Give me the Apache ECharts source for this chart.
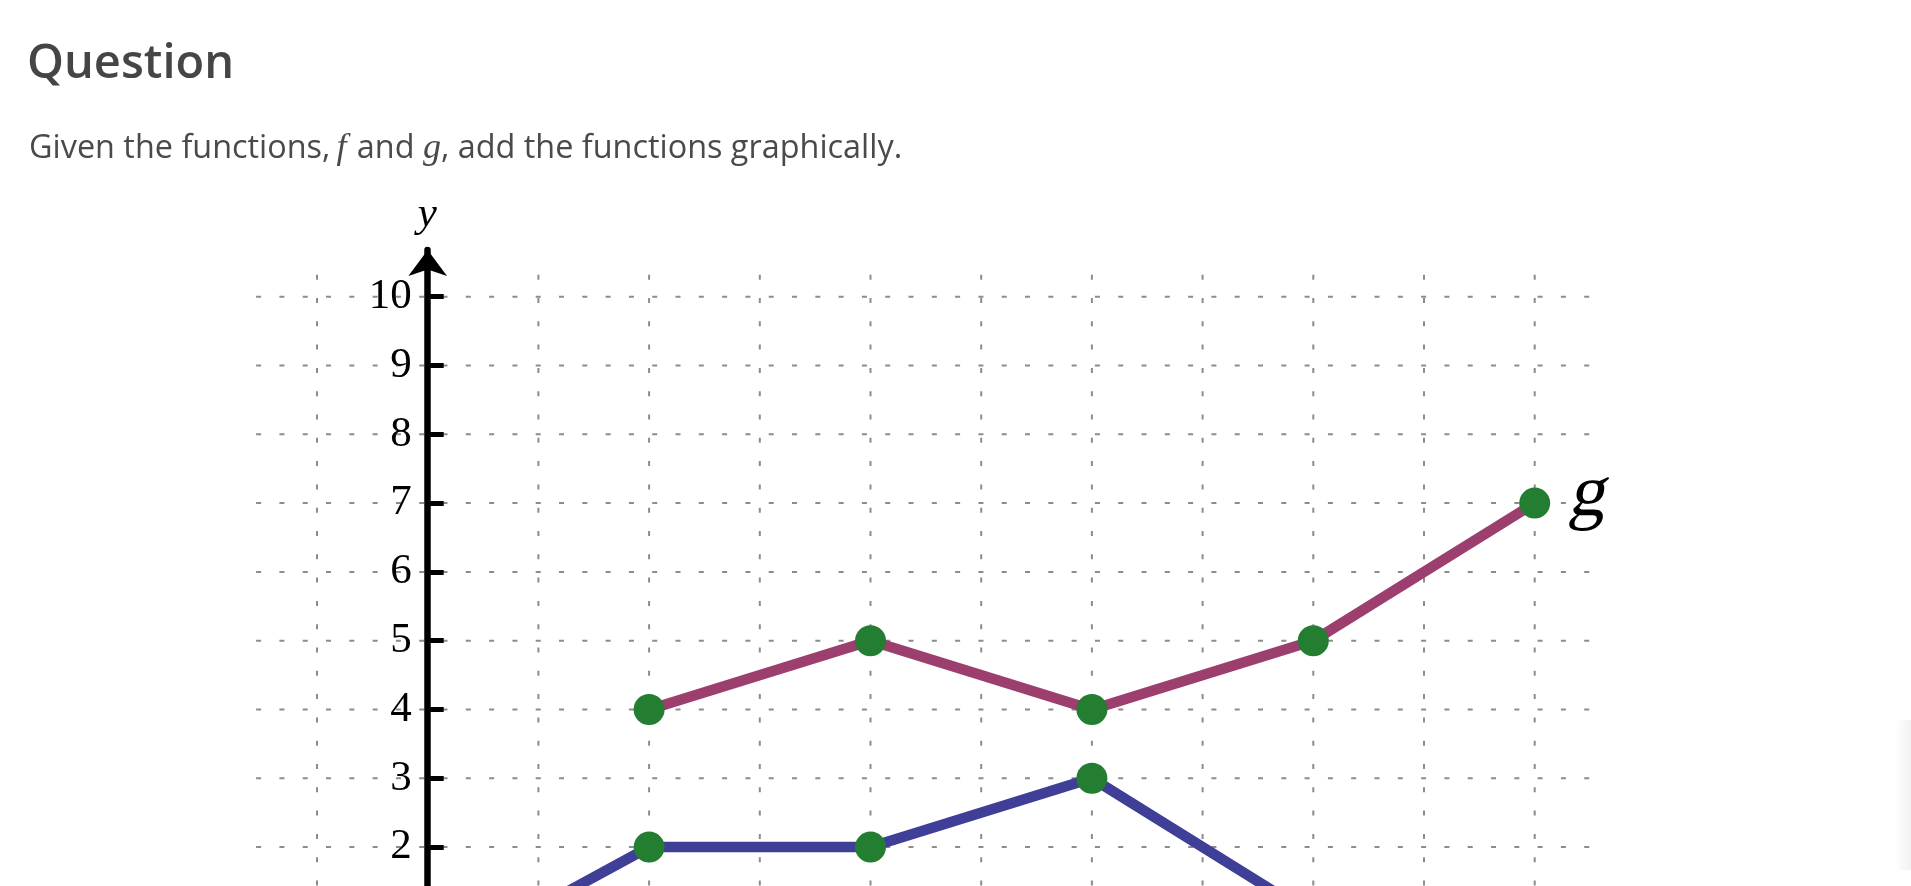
<!DOCTYPE html>
<html>
<head>
<meta charset="utf-8">
<script src="https://cdn.jsdelivr.net/npm/echarts@6/dist/echarts.min.js"></script>
<style>
  html, body { margin: 0; padding: 0; width: 1911px; height: 886px; overflow: hidden; background: #fff; }
  #wrap { position: absolute; left: 0; top: 0; width: 1911px; height: 886px; overflow: hidden; }
  #chart { position: absolute; left: 0; top: 0; width: 1911px; height: 1100px; }
  .head { position: absolute; left: 27px; top: 37px; margin: 0; font-family: 'Open Sans'; font-weight: 600; font-size: 47px; line-height: 1; color: #454545; white-space: nowrap; }
  .question { position: absolute; left: 29px; top: 128px; margin: 0; font-family: 'Open Sans'; font-weight: 400; font-size: 32.4px; line-height: 1; color: #4a4a4a; white-space: nowrap; }
  .question i { font-family: 'Liberation Serif'; font-size: 36px; }
  .question i.f { margin: 0 2px 0 6px; }
  .shadow { position: absolute; right: 0; top: 720px; width: 16px; height: 150px; background: linear-gradient(to right, rgba(0,0,0,0), rgba(0,0,0,0.05)); border-radius: 8px 0 0 8px; }
</style>
</head>
<body>
<div id="wrap"><div id="chart"></div></div>
<div class="head">Question</div>
<div class="question">Given the functions,<i class="f">f</i> and <i>g</i>, add the functions graphically.</div>
<div class="shadow"></div>
<script>
// ---- data ----
const fX = [0, 2, 4, 6, 8, 10];
const fY = [0.25, 2, 2, 3, 1, 0];
const gX = [2, 4, 6, 8, 10];
const gY = [4, 5, 4, 5, 7];
const gName = 'g';
const fName = 'f';
const yAxisName = 'y';
const yTicks = [1, 2, 3, 4, 5, 6, 7, 8, 9, 10];
const gridXs = [-1, 0, 1, 2, 3, 4, 5, 6, 7, 8, 9, 10];
const gridYs = [-1, 0, 1, 2, 3, 4, 5, 6, 7, 8, 9, 10];
const gridXStart = -1.55, gridXEnd = 10.5;
const gridYTop = 10.32, gridYBottom = -1;

// ---- build ----
const gridLines = gridYs.map(y => [gridXStart, y, gridXEnd, y])
  .concat(gridXs.map(x => [x, gridYTop, x, gridYBottom]));

const unitX = 110.7, unitY = 68.8;
const xMin = 0, xMax = 11, yMin = -1, yMax = 10.68;
const originX = 427.7, y10 = 296.7;

const chart = echarts.init(document.getElementById('chart'), null, { renderer: 'canvas' });
chart.setOption({
  animation: false,
  backgroundColor: '#ffffff',
  grid: {
    left: originX + xMin * unitX,
    top: y10 - (yMax - 10) * unitY,
    width: (xMax - xMin) * unitX,
    height: (yMax - yMin) * unitY,
    containLabel: false
  },
  xAxis: {
    type: 'value', min: xMin, max: xMax, show: false
  },
  yAxis: {
    type: 'value', min: yMin, max: yMax,
    z: 10,
    name: yAxisName,
    nameLocation: 'end',
    nameGap: 14,
    nameTextStyle: { fontFamily: 'Liberation Serif', fontStyle: 'italic', fontSize: 43, color: '#000', padding: [0, 1, 0, 0] },
    axisLine: { show: true, onZero: false, symbol: ['none', 'arrow'], symbolSize: [29, 26], lineStyle: { color: '#000', width: 6.5 } },
    axisTick: { show: true, inside: true, length: 16, customValues: yTicks, lineStyle: { color: '#000', width: 5 } },
    axisLabel: { show: true, customValues: yTicks, margin: 16, fontFamily: 'Liberation Serif', fontSize: 43, color: '#000' },
    splitLine: { show: false }
  },
  series: [
    {
      type: 'custom',
      z: 0,
      silent: true,
      clip: false,
      encode: { x: [0, 2], y: [1, 3] },
      data: gridLines,
      renderItem: function (params, api) {
        const p1 = api.coord([api.value(0), api.value(1)]);
        const p2 = api.coord([api.value(2), api.value(3)]);
        return {
          type: 'line',
          shape: { x1: p1[0], y1: p1[1], x2: p2[0], y2: p2[1] },
          style: { stroke: '#8c8c8c', lineWidth: 2, lineDash: [5, 18.3], fill: null }
        };
      }
    },
    {
      type: 'line',
      name: fName,
      z: 3,
      data: fX.map((x, i) => [x, fY[i]]),
      symbol: 'circle',
      symbolSize: 31,
      lineStyle: { color: '#3f3f98', width: 10.5 },
      itemStyle: { color: '#237e32' }
    },
    {
      type: 'line',
      name: gName,
      z: 3,
      data: gX.map((x, i) => [x, gY[i]]),
      symbol: 'circle',
      symbolSize: 31,
      lineStyle: { color: '#9c3f6e', width: 10.5 },
      itemStyle: { color: '#237e32' }
    }
  ]
});

// series name label next to the last point of g (placed from the data point through the axes)
const gEnd = chart.convertToPixel({ gridIndex: 0 }, [gX[gX.length - 1], gY[gY.length - 1]]);
chart.setOption({
  graphic: [{
    type: 'text',
    z: 20,
    x: gEnd[0] + 37,
    y: gEnd[1] - 8,
    skewX: -0.2,
    style: {
      text: gName,
      fontFamily: 'Liberation Serif',
      fontSize: 74,
      fill: '#000',
      align: 'left',
      verticalAlign: 'middle'
    }
  }]
});
</script>
</body>
</html>
